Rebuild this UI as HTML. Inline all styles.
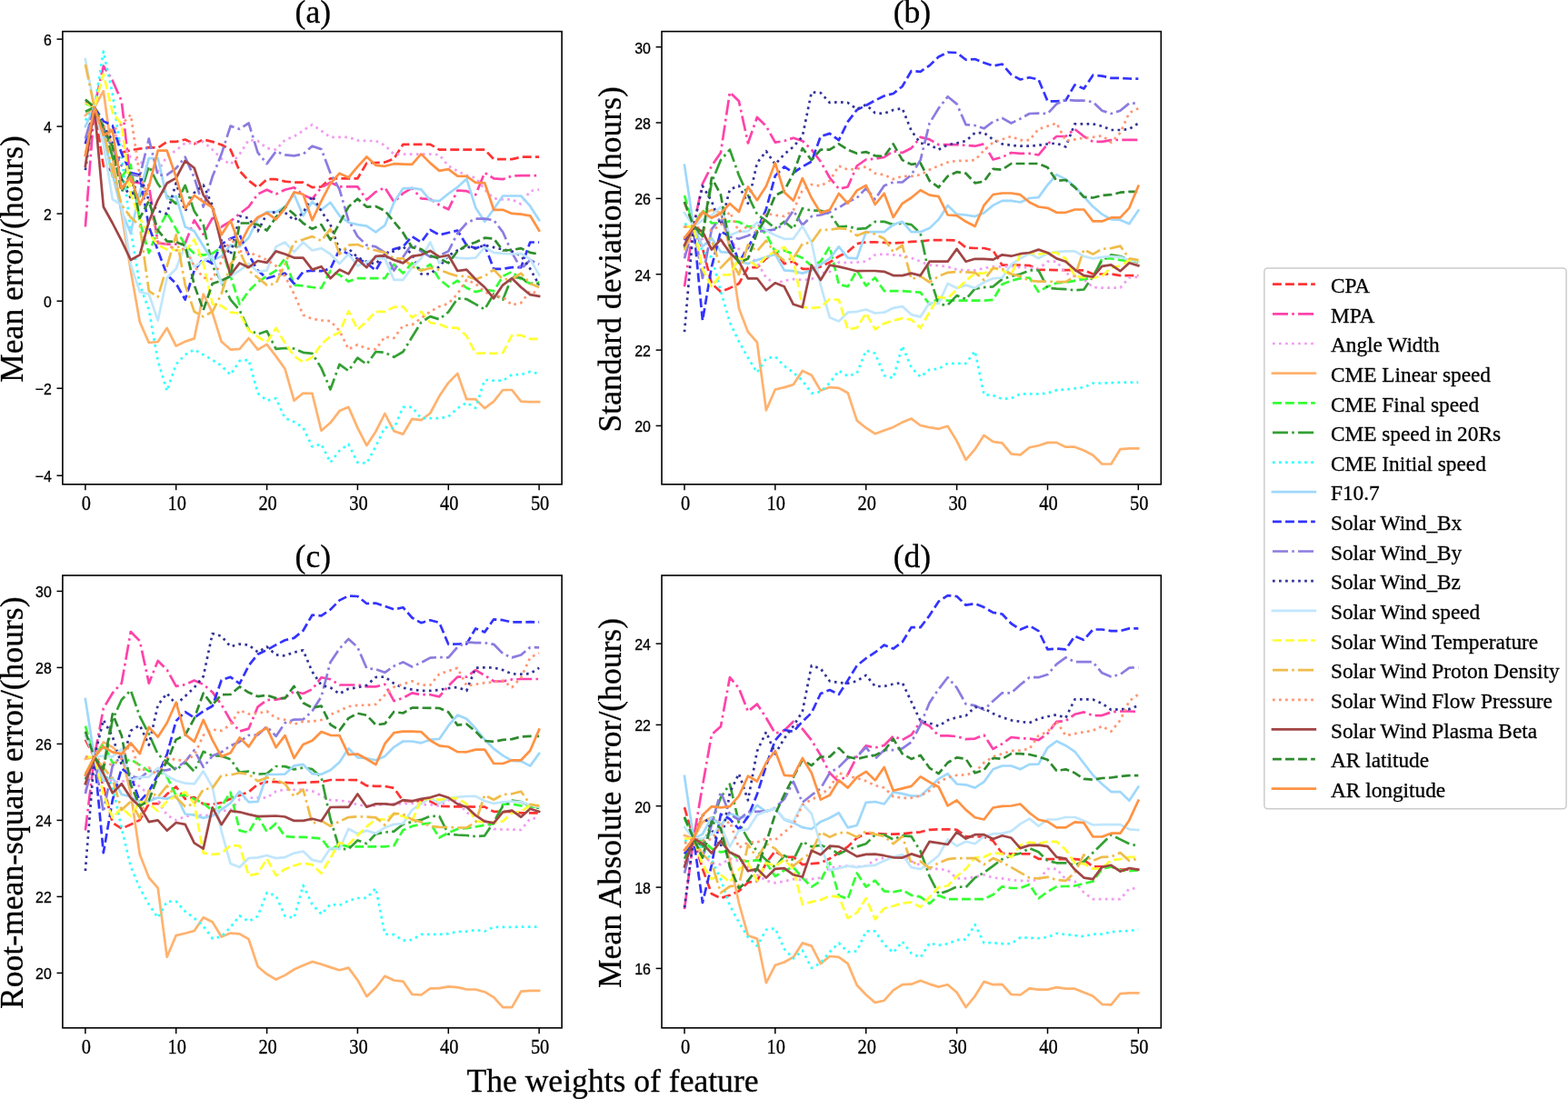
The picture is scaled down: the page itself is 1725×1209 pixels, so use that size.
<!DOCTYPE html>
<html lang="en"><head><meta charset="utf-8">
<title>Prediction error versus the weights of feature</title>
<style>
html,body{margin:0;padding:0;background:#fff;}
body{width:1725px;height:1209px;overflow:hidden;}
svg{display:block;}
.ser{font-family:"Liberation Serif", "DejaVu Serif", serif;fill:#000;stroke:#000;stroke-width:0.3px;stroke-linejoin:round;}
.san{font-family:"Liberation Sans", "DejaVu Sans", sans-serif;fill:#000;font-size:17.3px;stroke:#000;stroke-width:0.3px;}
.big{font-size:35.6px;}
.xt{font-size:22.5px;text-anchor:middle;}
.yt{text-anchor:end;}
.lg{font-size:23.3px;}
.ax{fill:none;stroke:#000;stroke-width:1.6;}
.tk{stroke:#000;stroke-width:1.5;}
.ln{fill:none;stroke-width:2.7;stroke-linejoin:round;stroke-linecap:butt;}
.sol{stroke-linecap:square;}
.dash{stroke-dasharray:9.85 4.2;}
.dashdot{stroke-dasharray:17 4.2 2.66 4.2;}
.dot{stroke-dasharray:2.7 4.33;}
</style></head><body>
<svg role="img" aria-label="Four-panel line chart of prediction errors versus the weights of feature" width="1725" height="1209" viewBox="0 0 1725 1209">
<rect x="0" y="0" width="1725" height="1209" fill="#fff"/>
<g id="panel-a">
<clipPath id="clip-a"><rect x="68.9" y="34.6" width="549.2" height="498.2"/></clipPath>
<g clip-path="url(#clip-a)">
<polyline class="ln dash" stroke="#ff3333" points="93.9,172.2 103.8,118 113.8,182.8 123.8,188.6 133.8,167.9 143.8,165.3 153.8,163.6 163.8,162.2 173.7,162.6 183.7,155.9 193.7,155.9 203.7,153.5 213.7,158.3 223.7,153.5 233.7,155.9 243.6,159.3 253.6,164.6 263.6,188.1 273.6,198.7 283.6,206.3 293.6,197.2 303.6,197.2 313.5,199.6 323.5,200.6 333.5,200.6 343.5,206.1 353.5,205.4 363.5,196.3 373.5,196.3 383.4,196.3 393.4,196.3 403.4,179.4 413.4,179 423.4,178.5 433.4,174.6 443.4,158.8 453.3,158.8 463.3,158.8 473.3,158.8 483.3,164.6 493.3,164.6 503.3,164.6 513.3,164.6 523.2,164.6 533.2,164.6 543.2,175.1 553.2,175.1 563.2,175.1 573.2,172.7 583.2,172.7 593.1,172.7"/>
<polyline class="ln dashdot" stroke="#ff43a9" points="93.9,249.5 103.8,118 113.8,72.5 123.8,88.7 133.8,111.3 143.8,199.6 153.8,201.5 163.8,203.9 173.7,267.3 183.7,268.7 193.7,268.7 203.7,267.8 213.7,242.3 223.7,257.7 233.7,239.9 243.6,249.5 253.6,243.3 263.6,235.1 273.6,227.5 283.6,213.5 293.6,208.7 303.6,213.5 313.5,208.7 323.5,206.3 333.5,214.5 343.5,218.8 353.5,206.3 363.5,200.6 373.5,205.4 383.4,205.4 393.4,205.4 403.4,219.8 413.4,211.1 423.4,206.3 433.4,222.2 443.4,212.6 453.3,206.8 463.3,218.3 473.3,219.1 483.3,225.5 493.3,230.3 503.3,209.5 513.3,210.2 523.2,214.3 533.2,190 543.2,196.3 553.2,197.2 563.2,193.6 573.2,193.1 583.2,193.1 593.1,193.1"/>
<polyline class="ln dot" stroke="#f19bf1" points="93.9,158.3 103.8,118 113.8,158.3 123.8,143.9 133.8,158.3 143.8,172.7 153.8,177.5 163.8,184.7 173.7,188.6 183.7,171.8 193.7,165.5 203.7,157.4 213.7,157.4 223.7,155.9 233.7,164.6 243.6,174.6 253.6,180.9 263.6,169.6 273.6,154 283.6,155 293.6,163.1 303.6,164.6 313.5,154 323.5,150.2 333.5,143.6 343.5,137.2 353.5,143.9 363.5,150.9 373.5,150.9 383.4,150.9 393.4,154.5 403.4,155 413.4,155 423.4,159.8 433.4,169.6 443.4,169.6 453.3,169.6 463.3,169.6 473.3,169.6 483.3,170.3 493.3,182.6 503.3,188.1 513.3,193.1 523.2,195.5 533.2,208.5 543.2,218.3 553.2,219.3 563.2,219.3 573.2,224.6 583.2,210.2 593.1,208.5"/>
<polyline class="ln sol" stroke="#ffb26e" points="93.9,126.9 103.8,118 113.8,100.2 123.8,172.7 133.8,235.1 143.8,297.6 153.8,354.2 163.8,377 173.7,376 183.7,360.8 193.7,380.6 203.7,375.8 213.7,372.4 223.7,323.5 233.7,344.1 243.6,375.8 253.6,384.6 263.6,383.8 273.6,372 283.6,384.6 293.6,378.9 303.6,391.9 313.5,405.7 323.5,440.6 333.5,432.5 343.5,432.9 353.5,473.7 363.5,465.1 373.5,452.1 383.4,447.8 393.4,470.6 403.4,490.1 413.4,474.7 423.4,455 433.4,474.2 443.4,477.6 453.3,460.8 463.3,462.2 473.3,454.5 483.3,435.8 493.3,421.1 503.3,410.9 513.3,439.2 523.2,439.2 533.2,449.1 543.2,441.6 553.2,429 563.2,429 573.2,441.6 583.2,442.1 593.1,442.1"/>
<polyline class="ln dash" stroke="#33ff33" points="93.9,113.7 103.8,118 113.8,146.3 123.8,194.3 133.8,194.8 143.8,181.1 153.8,243.8 163.8,278.3 173.7,253.4 183.7,234.2 193.7,251.9 203.7,269.7 213.7,278.8 223.7,280.7 233.7,278.8 243.6,272.1 253.6,303.8 263.6,334.7 273.6,320.1 283.6,310.4 293.6,303.8 303.6,297.6 313.5,284.4 323.5,313.6 333.5,314.4 343.5,316 353.5,316.8 363.5,298 373.5,302.4 383.4,309.6 393.4,306.2 403.4,306.2 413.4,306.2 423.4,306.2 433.4,290.8 443.4,300.6 453.3,289.4 463.3,297.6 473.3,290.8 483.3,307.2 493.3,315.3 503.3,308.7 513.3,316.8 523.2,321.1 533.2,318.5 543.2,320.1 553.2,303.8 563.2,299 573.2,307.2 583.2,312 593.1,310.5"/>
<polyline class="ln dashdot" stroke="#33a033" points="93.9,122.8 103.8,118 113.8,139.1 123.8,172.7 133.8,196.7 143.8,211.1 153.8,215.9 163.8,182.8 173.7,202.3 183.7,215.9 193.7,224.1 203.7,203.9 213.7,232.3 223.7,247.1 233.7,292.8 243.6,309.6 253.6,329.7 263.6,341.2 273.6,362.7 283.6,367.6 293.6,364.3 303.6,383.8 313.5,383 323.5,383.5 333.5,387.8 343.5,388.8 353.5,404.9 363.5,428.4 373.5,400.8 383.4,408 393.4,393.6 403.4,400.8 413.4,387 423.4,387.8 433.4,392.8 443.4,387 453.3,370.8 463.3,354.6 473.3,348.1 483.3,351.3 493.3,343.2 503.3,328.3 513.3,329 523.2,334.7 533.2,340.3 543.2,323.5 553.2,329.7 563.2,304.8 573.2,305.7 583.2,312 593.1,312"/>
<polyline class="ln dot" stroke="#33ffff" points="93.9,132.5 103.8,118 113.8,56.6 123.8,103.1 133.8,172.7 143.8,253.4 153.8,313.6 163.8,340.8 173.7,396.9 183.7,430.1 193.7,400.8 203.7,390.2 213.7,384.6 223.7,390.2 233.7,396 243.6,402.5 253.6,412.3 263.6,396.9 273.6,396 283.6,432.5 293.6,440.6 303.6,438.2 313.5,460.1 323.5,464.1 333.5,470.4 343.5,491.5 353.5,488.6 363.5,508.8 373.5,495.8 383.4,488.6 393.4,508.8 403.4,509.6 413.4,491 423.4,469.9 433.4,471.3 443.4,447.8 453.3,447.8 463.3,460.1 473.3,460.1 483.3,460.1 493.3,458.4 503.3,449.1 513.3,443 523.2,448.8 533.2,417.9 543.2,418.7 553.2,418.7 563.2,412.2 573.2,412.2 583.2,408.9 593.1,411.3"/>
<polyline class="ln sol" stroke="#9fd8fb" points="93.9,139.1 103.8,118 113.8,148.7 123.8,191.9 133.8,232.3 143.8,256.7 153.8,211.1 163.8,174.2 173.7,174.2 183.7,218.3 193.7,215.9 203.7,249.5 213.7,254.3 223.7,270.7 233.7,286.5 243.6,281.9 253.6,269.7 263.6,271.4 273.6,261.5 283.6,240.6 293.6,233.2 303.6,233.2 313.5,227.6 323.5,213.8 333.5,237.3 343.5,221.9 353.5,230.8 363.5,222.7 373.5,237.3 383.4,244.7 393.4,247.1 403.4,248.6 413.4,255.3 423.4,247.9 433.4,222.7 443.4,207.3 453.3,206.8 463.3,208.3 473.3,220.3 483.3,221.2 493.3,213.1 503.3,205.9 513.3,196.7 523.2,228.4 533.2,243.8 543.2,230 553.2,215.5 563.2,215.5 573.2,215.5 583.2,226.7 593.1,242.2"/>
<polyline class="ln dash" stroke="#3333ff" points="93.9,158.3 103.8,118 113.8,133.4 123.8,138.2 133.8,168.9 143.8,190 153.8,192.4 163.8,249.5 173.7,275.5 183.7,302.4 193.7,312 203.7,329.7 213.7,297.6 223.7,284.6 233.7,289.9 243.6,268.7 253.6,262.5 263.6,258.4 273.6,280.3 283.6,297.6 293.6,306.2 303.6,303.1 313.5,300.6 323.5,312 333.5,299 343.5,297.6 353.5,298.2 363.5,295.6 373.5,274.5 383.4,279.5 393.4,284.6 403.4,289.4 413.4,297.6 423.4,279.5 433.4,274 443.4,271.4 453.3,260.1 463.3,266.5 473.3,252.9 483.3,258.4 493.3,256 503.3,253.6 513.3,269.7 523.2,273.1 533.2,269.7 543.2,295.8 553.2,295.8 563.2,294.2 573.2,294.2 583.2,266.5 593.1,266.5"/>
<polyline class="ln dashdot" stroke="#8b7ce0" points="93.9,152.6 103.8,118 113.8,143.9 123.8,163.1 133.8,182.3 143.8,191.9 153.8,193.9 163.8,152.6 173.7,192.9 183.7,192.4 193.7,185.2 203.7,172.7 213.7,195.3 223.7,227.5 233.7,194.3 243.6,169.6 253.6,138.6 263.6,142 273.6,135.5 283.6,167.9 293.6,180.1 303.6,166.5 313.5,170.3 323.5,171.3 333.5,169.6 343.5,160.7 353.5,164.1 363.5,190.5 373.5,208.3 383.4,242.3 393.4,260.1 403.4,269.7 413.4,271.4 423.4,277.9 433.4,297.6 443.4,282.7 453.3,268.3 463.3,276.4 473.3,282.7 483.3,281.2 493.3,276.4 503.3,256.7 513.3,245.5 523.2,240.6 533.2,240.6 543.2,242.2 553.2,255.3 563.2,277.9 573.2,295.8 583.2,286 593.1,290.8"/>
<polyline class="ln dot" stroke="#333399" points="93.9,187.1 103.8,118 113.8,139.1 123.8,154.5 133.8,199.1 143.8,217.9 153.8,191.9 163.8,220.7 173.7,232.3 183.7,235.1 193.7,201.5 203.7,232.3 213.7,212.1 223.7,203.5 233.7,226 243.6,264.9 253.6,280.3 263.6,237.7 273.6,239.9 283.6,254.3 293.6,235.1 303.6,233.2 313.5,233.7 323.5,242.3 333.5,234.2 343.5,215.5 353.5,232.3 363.5,247.1 373.5,275.5 383.4,273.5 393.4,283.1 403.4,288 413.4,290.4 423.4,279.5 433.4,276.4 443.4,271.4 453.3,279.5 463.3,301.4 473.3,301.4 483.3,293.2 493.3,281.2 503.3,275.5 513.3,271.4 523.2,273.1 533.2,269.7 543.2,272.1 553.2,274.5 563.2,276.4 573.2,281.2 583.2,295.6 593.1,313.6"/>
<polyline class="ln sol" stroke="#c0e6fc" points="93.9,65.2 103.8,118 113.8,158.3 123.8,219.3 133.8,225.5 143.8,290.8 153.8,321.1 163.8,323.5 173.7,352.6 183.7,305.5 193.7,295.8 203.7,269.7 213.7,293.2 223.7,287.7 233.7,281.2 243.6,312 253.6,303.8 263.6,297.6 273.6,290.1 283.6,299 293.6,297.6 303.6,271.4 313.5,266.5 323.5,277.1 333.5,266.5 343.5,275.5 353.5,273.1 363.5,279.5 373.5,290.1 383.4,279.5 393.4,292.5 403.4,288.4 413.4,284.4 423.4,284.4 433.4,307.9 443.4,307.9 453.3,294.2 463.3,284.4 473.3,266.5 483.3,289.2 493.3,281.2 503.3,283.6 513.3,284.4 523.2,283.6 533.2,272.2 543.2,277.9 553.2,278.8 563.2,279.5 573.2,278.8 583.2,285.2 593.1,302.4"/>
<polyline class="ln dash" stroke="#ffff33" points="93.9,112.7 103.8,118 113.8,81.5 123.8,123.8 133.8,136.7 143.8,213.5 153.8,240.4 163.8,256.7 173.7,269.7 183.7,274.5 193.7,275 203.7,276.4 213.7,263.5 223.7,289.9 233.7,334.5 243.6,336.4 253.6,343.6 263.6,344.6 273.6,363.3 283.6,370.5 293.6,376.3 303.6,360.9 313.5,377.2 323.5,391.7 333.5,398.4 343.5,393.1 353.5,378.7 363.5,370 373.5,365.7 383.4,342.2 393.4,362.4 403.4,353.4 413.4,342.8 423.4,342.8 433.4,337.9 443.4,337.2 453.3,349.3 463.3,342.8 473.3,355 483.3,356.6 493.3,360.7 503.3,360.7 513.3,369.6 523.2,388.8 533.2,388.3 543.2,388.8 553.2,388.1 563.2,368.8 573.2,368.8 583.2,372.8 593.1,372.8"/>
<polyline class="ln dashdot" stroke="#f0bc4a" points="93.9,70.9 103.8,118 113.8,143.9 123.8,187.1 133.8,225.5 143.8,239 153.8,248.6 163.8,320.1 173.7,326.6 183.7,292.8 193.7,258.4 203.7,313.6 213.7,342.8 223.7,348.4 233.7,342.8 243.6,323.3 253.6,290.8 263.6,276.4 273.6,297.6 283.6,305.5 293.6,313.6 303.6,312 313.5,290.8 323.5,266.5 333.5,263.5 343.5,260.1 353.5,264.9 363.5,251.9 373.5,279.5 383.4,269.7 393.4,269 403.4,273.1 413.4,275.5 423.4,277.9 433.4,284.4 443.4,284.4 453.3,293.2 463.3,297.6 473.3,295 483.3,296.6 493.3,300.6 503.3,303.8 513.3,303.8 523.2,307.2 533.2,303.8 543.2,296.6 553.2,307.2 563.2,307.2 573.2,300.6 583.2,312 593.1,316"/>
<polyline class="ln dot" stroke="#ff9673" points="93.9,111.3 103.8,118 113.8,139.1 123.8,143.9 133.8,136.7 143.8,126.2 153.8,194.1 163.8,217.9 173.7,266.5 183.7,268.3 193.7,275.5 203.7,273.5 213.7,292.8 223.7,305.5 233.7,307.2 243.6,287.7 253.6,261.7 263.6,276.4 273.6,277.9 283.6,281.2 293.6,286 303.6,292.5 313.5,303.8 323.5,323.3 333.5,346.5 343.5,350.8 353.5,352.3 363.5,353.2 373.5,363.8 383.4,384.2 393.4,379.2 403.4,383.5 413.4,384.2 423.4,370.5 433.4,372 443.4,358.2 453.3,357.4 463.3,350.1 473.3,342.8 483.3,337.2 493.3,333.9 503.3,323.3 513.3,307.9 523.2,312 533.2,320.9 543.2,325.8 553.2,326.6 563.2,335.5 573.2,333.1 583.2,320.1 593.1,323.3"/>
<polyline class="ln sol" stroke="#a04545" points="93.9,182.8 103.8,118 113.8,227.5 123.8,245.5 133.8,264.9 143.8,286 153.8,280.3 163.8,243.8 173.7,219.8 183.7,201.5 193.7,195.8 203.7,177 213.7,184.7 223.7,214.5 233.7,228.4 243.6,268.3 253.6,302.4 263.6,289.4 273.6,294.2 283.6,287 293.6,288.9 303.6,276.4 313.5,279.5 323.5,283.6 333.5,283.6 343.5,296.6 353.5,293.2 363.5,306.2 373.5,296.6 383.4,301.4 393.4,285.2 403.4,294.2 413.4,281.9 423.4,281.2 433.4,286 443.4,289.4 453.3,281.9 463.3,280.3 473.3,275.9 483.3,282.7 493.3,280.7 503.3,298 513.3,296.6 523.2,307.2 533.2,316 543.2,328.3 553.2,313.6 563.2,306.2 573.2,316 583.2,324.2 593.1,325.9"/>
<polyline class="ln dash" stroke="#2e8b2e" points="93.9,109.4 103.8,118 113.8,142 123.8,160.7 133.8,211.1 143.8,190 153.8,239.9 163.8,221.2 173.7,253.4 183.7,265.4 193.7,266.3 203.7,270.2 213.7,313.6 223.7,341.2 233.7,312 243.6,308.7 253.6,303.8 263.6,245.5 273.6,245.5 283.6,247.1 293.6,253.6 303.6,239 313.5,227.6 323.5,235.6 333.5,245.5 343.5,251.9 353.5,247.1 363.5,263.9 373.5,245.5 383.4,227.6 393.4,218.7 403.4,227.6 413.4,227 423.4,231.8 433.4,243.8 443.4,256 453.3,272.1 463.3,274 473.3,281.2 483.3,284.4 493.3,289.4 503.3,276.4 513.3,269.7 523.2,266.5 533.2,261.7 543.2,262.5 553.2,275.5 563.2,275 573.2,273.1 583.2,277.9 593.1,279.5"/>
<polyline class="ln sol" stroke="#ff9243" points="93.9,170.6 103.8,118 113.8,148.7 123.8,143.4 133.8,207.9 143.8,194.1 153.8,225.1 163.8,205.4 173.7,165.7 183.7,165.7 193.7,194.8 203.7,229.4 213.7,215 223.7,222.2 233.7,228.4 243.6,258.4 253.6,242.6 263.6,269.5 273.6,250.3 283.6,239 293.6,234.2 303.6,241.4 313.5,229.4 323.5,211.4 333.5,213.8 343.5,242.2 353.5,221.2 363.5,202 373.5,190.7 383.4,195.3 393.4,183.3 403.4,172.5 413.4,181.8 423.4,182.8 433.4,180.2 443.4,180.6 453.3,180.9 463.3,169.4 473.3,179.4 483.3,187.9 493.3,186.2 503.3,193.6 513.3,193.9 523.2,200.8 533.2,201.3 543.2,230.8 553.2,230.8 563.2,234.9 573.2,235.6 583.2,237.3 593.1,253.6"/>
</g>
<rect class="ax" x="68.9" y="34.6" width="549.2" height="498.2"/>
<line class="tk" x1="93.9" y1="532.8" x2="93.9" y2="539.2"/>
<text class="ser xt" x="94.9" y="561.2" textLength="10.2" lengthAdjust="spacingAndGlyphs">0</text>
<line class="tk" x1="193.7" y1="532.8" x2="193.7" y2="539.2"/>
<text class="ser xt" x="194.7" y="561.2" textLength="20.4" lengthAdjust="spacingAndGlyphs">10</text>
<line class="tk" x1="293.6" y1="532.8" x2="293.6" y2="539.2"/>
<text class="ser xt" x="294.6" y="561.2" textLength="20.4" lengthAdjust="spacingAndGlyphs">20</text>
<line class="tk" x1="393.4" y1="532.8" x2="393.4" y2="539.2"/>
<text class="ser xt" x="394.4" y="561.2" textLength="20.4" lengthAdjust="spacingAndGlyphs">30</text>
<line class="tk" x1="493.3" y1="532.8" x2="493.3" y2="539.2"/>
<text class="ser xt" x="494.3" y="561.2" textLength="20.4" lengthAdjust="spacingAndGlyphs">40</text>
<line class="tk" x1="593.1" y1="532.8" x2="593.1" y2="539.2"/>
<text class="ser xt" x="594.1" y="561.2" textLength="20.4" lengthAdjust="spacingAndGlyphs">50</text>
<line class="tk" x1="62.5" y1="43.1" x2="68.9" y2="43.1"/>
<text class="san yt" x="56.8" y="50" textLength="8.8" lengthAdjust="spacingAndGlyphs">6</text>
<line class="tk" x1="62.5" y1="139.1" x2="68.9" y2="139.1"/>
<text class="san yt" x="56.8" y="146" textLength="8.8" lengthAdjust="spacingAndGlyphs">4</text>
<line class="tk" x1="62.5" y1="235.1" x2="68.9" y2="235.1"/>
<text class="san yt" x="56.8" y="242" textLength="8.8" lengthAdjust="spacingAndGlyphs">2</text>
<line class="tk" x1="62.5" y1="331.2" x2="68.9" y2="331.2"/>
<text class="san yt" x="56.8" y="338.1" textLength="8.8" lengthAdjust="spacingAndGlyphs">0</text>
<line class="tk" x1="62.5" y1="427.2" x2="68.9" y2="427.2"/>
<text class="san yt" x="56.8" y="434.1" textLength="18.1" lengthAdjust="spacingAndGlyphs">−2</text>
<line class="tk" x1="62.5" y1="523.2" x2="68.9" y2="523.2"/>
<text class="san yt" x="56.8" y="530.1" textLength="18.1" lengthAdjust="spacingAndGlyphs">−4</text>
<text class="ser big" text-anchor="middle" x="344.3" y="25.4">(a)</text>
<text class="ser big" text-anchor="middle" transform="translate(24.5,285) rotate(-90)">Mean error/(hours)</text>
</g>
<g id="panel-b">
<clipPath id="clip-b"><rect x="728" y="34.6" width="549.3" height="498.2"/></clipPath>
<g clip-path="url(#clip-b)">
<polyline class="ln dash" stroke="#ff3333" points="753,222.5 763,248.8 772.9,273 782.9,312 792.9,320.9 802.9,316.9 812.9,312 822.9,294.2 832.9,294.2 842.9,284.4 852.8,276.3 862.8,290.1 872.8,287.7 882.8,295.8 892.8,295.8 902.8,293.4 912.8,288.5 922.8,282 932.7,277.1 942.7,268.2 952.7,266.3 962.7,266.3 972.7,266.9 982.7,267.4 992.7,266.9 1002.6,265.8 1012.6,265.5 1022.6,264.2 1032.6,264.2 1042.6,264.2 1052.6,264.4 1062.6,272.3 1072.6,273 1082.5,273 1092.5,275.5 1102.5,291.7 1112.5,291.7 1122.5,291.7 1132.5,292.1 1142.5,296.6 1152.5,296.9 1162.4,297.1 1172.4,297.1 1182.4,297.3 1192.4,297.4 1202.4,301.5 1212.4,301.5 1222.4,301.5 1232.4,303.1 1242.3,303.1 1252.3,303.1"/>
<polyline class="ln dashdot" stroke="#ff43a9" points="753,315.3 763,248.8 772.9,202.1 782.9,182.5 792.9,168 802.9,101.4 812.9,111.3 822.9,157.5 832.9,129 842.9,138.8 852.8,156.7 862.8,155 872.8,151.7 882.8,155 892.8,164.6 902.8,177.7 912.8,195.5 922.8,207.8 932.7,205.5 942.7,182.5 952.7,175.5 962.7,174.6 972.7,173 982.7,166.3 992.7,168 1002.6,163 1012.6,150.9 1022.6,153.4 1032.6,159.2 1042.6,159.2 1052.6,159.2 1062.6,159.8 1072.6,160.7 1082.5,158.4 1092.5,175.5 1102.5,173 1112.5,168 1122.5,168.8 1132.5,168.8 1142.5,170.5 1152.5,158.4 1162.4,150 1172.4,150 1182.4,142.1 1192.4,150 1202.4,155.9 1212.4,155.9 1222.4,154.2 1232.4,153.8 1242.3,153.8 1252.3,153.8"/>
<polyline class="ln dot" stroke="#f19bf1" points="753,280.9 763,248.8 772.9,264.2 782.9,272.6 792.9,270.5 802.9,265.1 812.9,273.9 822.9,281.2 832.9,288.5 842.9,305.5 852.8,312 862.8,308.8 872.8,307.1 882.8,308 892.8,307.1 902.8,300.6 912.8,299 922.8,288.5 932.7,289 942.7,288.5 952.7,287.7 962.7,280.3 972.7,279.6 982.7,280.3 992.7,281.2 1002.6,283.6 1012.6,287.7 1022.6,291.7 1032.6,292.2 1042.6,293.4 1052.6,296.6 1062.6,297.4 1072.6,297.4 1082.5,295 1092.5,293.4 1102.5,293.4 1112.5,293 1122.5,294.2 1132.5,294.2 1142.5,295.8 1152.5,287.7 1162.4,287.7 1172.4,300.6 1182.4,303.9 1192.4,307.1 1202.4,316.1 1212.4,316.6 1222.4,316.6 1232.4,316.6 1242.3,305.5 1252.3,304.7"/>
<polyline class="ln sol" stroke="#ffb26e" points="753,249.6 763,248.8 772.9,235 782.9,230.9 792.9,234.2 802.9,272.6 812.9,339.2 822.9,365.2 832.9,376.5 842.9,451.3 852.8,428.5 862.8,426.1 872.8,423.1 882.8,407.9 892.8,412.7 902.8,429.6 912.8,426.1 922.8,426.9 932.7,432.2 942.7,462.6 952.7,470.7 962.7,477.2 972.7,473.4 982.7,469.9 992.7,464.6 1002.6,460.6 1012.6,468 1022.6,470.2 1032.6,471.8 1042.6,468.8 1052.6,485.1 1062.6,505.9 1072.6,494.2 1082.5,478.8 1092.5,485.8 1102.5,487.4 1112.5,499.4 1122.5,500.4 1132.5,492.3 1142.5,490.2 1152.5,486.9 1162.4,486.9 1172.4,491.7 1182.4,491.7 1192.4,495.5 1202.4,500.7 1212.4,510.5 1222.4,510.5 1232.4,494.2 1242.3,493.4 1252.3,493.4"/>
<polyline class="ln dash" stroke="#33ff33" points="753,215 763,248.8 772.9,230.9 782.9,245.5 792.9,245.5 802.9,243.4 812.9,244.2 822.9,249.2 832.9,249.2 842.9,257.5 852.8,277.1 862.8,275.5 872.8,279.6 882.8,283.8 892.8,292.6 902.8,287.7 912.8,271.4 922.8,312.8 932.7,315.3 942.7,297.4 952.7,314.4 962.7,305.5 972.7,320.1 982.7,320.1 992.7,320.1 1002.6,320.9 1012.6,321.7 1022.6,334.6 1032.6,328.3 1042.6,330.7 1052.6,330.7 1062.6,330.7 1072.6,330.7 1082.5,330.7 1092.5,329.9 1102.5,312.8 1112.5,308.8 1122.5,306.3 1132.5,305.5 1142.5,320.9 1152.5,315.3 1162.4,311.3 1172.4,310.5 1182.4,308.8 1192.4,307.1 1202.4,305.5 1212.4,284.4 1222.4,284.4 1232.4,286.1 1242.3,286.8 1252.3,287.7"/>
<polyline class="ln dashdot" stroke="#33a033" points="753,273 763,248.8 772.9,260.1 782.9,200.5 792.9,176.1 802.9,164.6 812.9,193 822.9,215 832.9,235.7 842.9,243 852.8,251.3 862.8,243.8 872.8,251.9 882.8,229.2 892.8,231.7 902.8,231.7 912.8,235 922.8,249.5 932.7,248.8 942.7,251.9 952.7,251.1 962.7,243.8 972.7,243.8 982.7,247.1 992.7,245.5 1002.6,247.1 1012.6,256.7 1022.6,303.9 1032.6,334.8 1042.6,335.6 1052.6,325.1 1062.6,329.1 1072.6,317.7 1082.5,316.1 1092.5,315.3 1102.5,307.1 1112.5,303.9 1122.5,301.5 1132.5,297.4 1142.5,297.4 1152.5,316.9 1162.4,317.7 1172.4,318.2 1182.4,319.3 1192.4,318.5 1202.4,303.9 1212.4,286.1 1222.4,280.3 1232.4,282 1242.3,286.1 1252.3,288.5"/>
<polyline class="ln dot" stroke="#33ffff" points="753,246.3 763,248.8 772.9,276.7 782.9,283 792.9,320.1 802.9,354.6 812.9,375.7 822.9,393.6 832.9,409.8 842.9,394.4 852.8,392.3 862.8,402.6 872.8,409.8 882.8,418.8 892.8,432.6 902.8,430.9 912.8,421.2 922.8,407.9 932.7,413.8 942.7,410.6 952.7,385.5 962.7,388.7 972.7,413.1 982.7,416 992.7,380.6 1002.6,404.2 1012.6,414.6 1022.6,406.6 1032.6,405.8 1042.6,399.8 1052.6,399.8 1062.6,399.8 1072.6,386.3 1082.5,434.2 1092.5,435.1 1102.5,438.8 1112.5,438.2 1122.5,433.4 1132.5,433.4 1142.5,433.4 1152.5,432.6 1162.4,429.2 1172.4,428.5 1182.4,427.4 1192.4,426.1 1202.4,421.5 1212.4,421.5 1222.4,421.2 1232.4,420.7 1242.3,420.7 1252.3,420.7"/>
<polyline class="ln sol" stroke="#9fd8fb" points="753,181.7 763,248.8 772.9,271.3 782.9,262.1 792.9,277.1 802.9,278 812.9,287.1 822.9,290.1 832.9,286.1 842.9,282.8 852.8,279.6 862.8,297.4 872.8,298.2 882.8,300.6 892.8,297.4 902.8,290.9 912.8,284.4 922.8,271.4 932.7,283.6 942.7,284.4 952.7,255.2 962.7,255.2 972.7,255.2 982.7,247.1 992.7,243.8 1002.6,255.2 1012.6,255.2 1022.6,251.1 1032.6,241.4 1042.6,225.9 1052.6,235.7 1062.6,236.5 1072.6,238.1 1082.5,234.2 1092.5,225.9 1102.5,220.9 1112.5,220.9 1122.5,222.5 1132.5,218 1142.5,217.1 1152.5,203.4 1162.4,192.1 1172.4,197.1 1182.4,205 1192.4,216.3 1202.4,227.3 1212.4,235.7 1222.4,241.4 1232.4,241.9 1242.3,246.3 1252.3,231.7"/>
<polyline class="ln dash" stroke="#3333ff" points="753,264.2 763,248.8 772.9,352.6 782.9,293.4 792.9,254.6 802.9,260.1 812.9,288.4 822.9,272.6 832.9,253.2 842.9,230 852.8,193.4 862.8,183.4 872.8,190 882.8,183.4 892.8,177.7 902.8,150 912.8,146.9 922.8,154.2 932.7,133.8 942.7,120.9 952.7,116 962.7,110.5 972.7,105.5 982.7,103 992.7,95 1002.6,78 1012.6,78.8 1022.6,72.1 1032.6,62.5 1042.6,57.5 1052.6,58 1062.6,65.7 1072.6,65 1082.5,69 1092.5,72.5 1102.5,70.5 1112.5,82.1 1122.5,87.5 1132.5,85.2 1142.5,87.5 1152.5,111.3 1162.4,111.3 1172.4,110.5 1182.4,93.4 1192.4,97.5 1202.4,82.7 1212.4,83.6 1222.4,85.9 1232.4,85.9 1242.3,86.5 1252.3,86.7"/>
<polyline class="ln dashdot" stroke="#8b7ce0" points="753,284.4 763,248.8 772.9,305.9 782.9,252.1 792.9,239.2 802.9,260.5 812.9,262.8 822.9,259.2 832.9,254.8 842.9,253.8 852.8,252.3 862.8,246.7 872.8,231.7 882.8,247.5 892.8,238.1 902.8,236.5 912.8,233.4 922.8,228.4 932.7,222.1 942.7,217.8 952.7,207.1 962.7,219.3 972.7,204.3 982.7,200.5 992.7,200.5 1002.6,192.3 1012.6,176.1 1022.6,135.5 1032.6,119.2 1042.6,106.3 1052.6,114.4 1062.6,137.1 1072.6,138 1082.5,141.3 1092.5,133.8 1102.5,129.8 1112.5,135.5 1122.5,130.6 1132.5,125 1142.5,124.6 1152.5,125 1162.4,114.4 1172.4,109.6 1182.4,110.7 1192.4,110.7 1202.4,112.1 1212.4,121.7 1222.4,125 1232.4,121.7 1242.3,113.6 1252.3,113.6"/>
<polyline class="ln dot" stroke="#333399" points="753,365.2 763,248.8 772.9,204.6 782.9,221.3 792.9,247.5 802.9,208.4 812.9,204.4 822.9,223.8 832.9,179.2 842.9,166.3 852.8,180.9 862.8,169.6 872.8,161.5 882.8,150 892.8,101.4 902.8,102.1 912.8,113 922.8,112.1 932.7,113 942.7,120 952.7,115.2 962.7,124.2 972.7,125 982.7,120.9 992.7,119.2 1002.6,143.8 1012.6,157.5 1022.6,159.2 1032.6,164.6 1042.6,159.2 1052.6,157.5 1062.6,155 1072.6,146.1 1082.5,146.1 1092.5,153.4 1102.5,158.4 1112.5,159.8 1122.5,160.7 1132.5,160.7 1142.5,159.8 1152.5,158.4 1162.4,157.5 1172.4,161.5 1182.4,136.3 1192.4,136.3 1202.4,136.3 1212.4,138.8 1222.4,143 1232.4,143 1242.3,142.1 1252.3,135.5"/>
<polyline class="ln sol" stroke="#c0e6fc" points="753,234.2 763,248.8 772.9,242.1 782.9,236.7 792.9,227.5 802.9,258.8 812.9,254.8 822.9,254.4 832.9,244.6 842.9,253.6 852.8,258.8 862.8,262.8 872.8,262.6 882.8,248.8 892.8,266.6 902.8,313.6 912.8,349.3 922.8,353.4 932.7,343.7 942.7,342.8 952.7,340.5 962.7,344.5 972.7,343.7 982.7,338.8 992.7,337.1 1002.6,346.1 1012.6,348.6 1022.6,333.1 1032.6,333.9 1042.6,312 1052.6,316.9 1062.6,313.6 1072.6,316.9 1082.5,310.5 1092.5,306.3 1102.5,305.5 1112.5,290.9 1122.5,284.4 1132.5,278.8 1142.5,284.1 1152.5,278.8 1162.4,277.1 1172.4,276.3 1182.4,276.3 1192.4,282 1202.4,284.4 1212.4,282.8 1222.4,282 1232.4,282.8 1242.3,286.1 1252.3,287.7"/>
<polyline class="ln dash" stroke="#ffff33" points="753,249.6 763,248.8 772.9,295.9 782.9,315.3 792.9,302.3 802.9,302.3 812.9,284.4 822.9,285.9 832.9,293 842.9,282.1 852.8,276.3 862.8,271.8 872.8,285.3 882.8,338 892.8,338.8 902.8,338 912.8,329.1 922.8,329.9 932.7,362.3 942.7,360.7 952.7,344.5 962.7,362.3 972.7,355.9 982.7,352.6 992.7,350.1 1002.6,351.7 1012.6,360.7 1022.6,343.4 1032.6,326.7 1042.6,328.3 1052.6,318.5 1062.6,308.8 1072.6,300.6 1082.5,300.6 1092.5,295 1102.5,297.4 1112.5,302.3 1122.5,279.6 1132.5,278 1142.5,279.6 1152.5,278 1162.4,278 1172.4,284.4 1182.4,303.9 1192.4,305.1 1202.4,305.5 1212.4,303.9 1222.4,294.2 1232.4,292.6 1242.3,286.1 1252.3,286.1"/>
<polyline class="ln dashdot" stroke="#f0bc4a" points="753,275.5 763,248.8 772.9,256.7 782.9,264.2 792.9,294.6 802.9,284.2 812.9,302.1 822.9,269.2 832.9,276.3 842.9,264.6 852.8,278.8 862.8,286.7 872.8,283.8 882.8,268.2 892.8,266.6 902.8,252.8 912.8,252.8 922.8,251.1 932.7,251.9 942.7,259.2 952.7,255.2 962.7,257.6 972.7,262.6 982.7,277.1 992.7,269.8 1002.6,307.1 1012.6,303.9 1022.6,310.5 1032.6,303.9 1042.6,299.8 1052.6,299 1062.6,299.3 1072.6,299.8 1082.5,308 1092.5,295 1102.5,295.8 1112.5,301.5 1122.5,303.9 1132.5,308.8 1142.5,309.6 1152.5,309.6 1162.4,310.1 1172.4,310.1 1182.4,303.9 1192.4,274.6 1202.4,279.6 1212.4,273.9 1222.4,273.1 1232.4,270.6 1242.3,284.4 1252.3,286.1"/>
<polyline class="ln dot" stroke="#ff9673" points="753,249.6 763,248.8 772.9,251.7 782.9,253.8 792.9,247.5 802.9,233 812.9,255 822.9,248.8 832.9,254.6 842.9,234.6 852.8,236.9 862.8,237.8 872.8,231.3 882.8,209.2 892.8,203 902.8,204.6 912.8,198.8 922.8,182.5 932.7,186.7 942.7,185.9 952.7,183.4 962.7,190.7 972.7,192.3 982.7,197.1 992.7,193.9 1002.6,193.9 1012.6,192.3 1022.6,186.7 1032.6,182.5 1042.6,178.5 1052.6,176.9 1062.6,176.9 1072.6,176.1 1082.5,165.5 1092.5,156.7 1102.5,153.4 1112.5,150 1122.5,154.2 1132.5,154.2 1142.5,142.1 1152.5,138.8 1162.4,135.5 1172.4,155 1182.4,153.4 1192.4,151.7 1202.4,150.9 1212.4,149.2 1222.4,156.7 1232.4,146.1 1242.3,124.2 1252.3,119.2"/>
<polyline class="ln sol" stroke="#a04545" points="753,269.8 763,248.8 772.9,254.8 782.9,274.6 792.9,263.4 802.9,278 812.9,287.7 822.9,306.3 832.9,306.3 842.9,319.3 852.8,311.3 862.8,315.3 872.8,334.8 882.8,338 892.8,291.7 902.8,308 912.8,291.7 922.8,293.4 932.7,295.8 942.7,298.2 952.7,298 962.7,298 972.7,298.8 982.7,303.1 992.7,303.1 1002.6,300.6 1012.6,303.1 1022.6,287.7 1032.6,287.7 1042.6,287.7 1052.6,273.9 1062.6,287.7 1072.6,284.8 1082.5,284.8 1092.5,285.6 1102.5,280.3 1112.5,281.7 1122.5,279.2 1132.5,278 1142.5,274.6 1152.5,278 1162.4,284.4 1172.4,287.7 1182.4,296.6 1192.4,303.1 1202.4,304.7 1212.4,292.8 1222.4,291.3 1232.4,298.2 1242.3,289.2 1252.3,292.2"/>
<polyline class="ln dash" stroke="#2e8b2e" points="753,221.9 763,248.8 772.9,258.4 782.9,195.5 792.9,214.2 802.9,270.1 812.9,289.2 822.9,284.6 832.9,255.9 842.9,239.2 852.8,215 862.8,210 872.8,190.7 882.8,163.1 892.8,176.1 902.8,164.6 912.8,164.6 922.8,158.4 932.7,164.6 942.7,168.8 952.7,167.1 962.7,171.3 972.7,172.1 982.7,158.4 992.7,176.1 1002.6,180.9 1012.6,179.3 1022.6,198.8 1032.6,206.1 1042.6,193.9 1052.6,189.2 1062.6,190.7 1072.6,201.3 1082.5,199.6 1092.5,185.9 1102.5,186.7 1112.5,180 1122.5,180 1132.5,180 1142.5,180 1152.5,184.2 1162.4,198.8 1172.4,198 1182.4,206.1 1192.4,216.7 1202.4,217.5 1212.4,215 1222.4,214.2 1232.4,211.7 1242.3,210.9 1252.3,210.9"/>
<polyline class="ln sol" stroke="#ff9243" points="753,261.7 763,248.8 772.9,233 782.9,239.8 792.9,234.6 802.9,224 812.9,233 822.9,205.5 832.9,220.2 842.9,204.8 852.8,179.2 862.8,211.5 872.8,220.7 882.8,196.1 892.8,217.8 902.8,234.1 912.8,230.9 922.8,212.8 932.7,223.8 942.7,209.6 952.7,203.9 962.7,225 972.7,212.8 982.7,239 992.7,223.8 1002.6,217.5 1012.6,209.2 1022.6,214.6 1032.6,216.1 1042.6,236.5 1052.6,237.1 1062.6,243.8 1072.6,249 1082.5,225.9 1092.5,214 1102.5,212.5 1112.5,212.5 1122.5,214.2 1132.5,222.5 1142.5,227.5 1152.5,228.8 1162.4,233.8 1172.4,233.8 1182.4,230.5 1192.4,230.5 1202.4,243.4 1212.4,243.4 1222.4,239.4 1232.4,239.4 1242.3,228.8 1252.3,204.8"/>
</g>
<rect class="ax" x="728" y="34.6" width="549.3" height="498.2"/>
<line class="tk" x1="753" y1="532.8" x2="753" y2="539.2"/>
<text class="ser xt" x="754" y="561.2" textLength="10.2" lengthAdjust="spacingAndGlyphs">0</text>
<line class="tk" x1="852.8" y1="532.8" x2="852.8" y2="539.2"/>
<text class="ser xt" x="853.8" y="561.2" textLength="20.4" lengthAdjust="spacingAndGlyphs">10</text>
<line class="tk" x1="952.7" y1="532.8" x2="952.7" y2="539.2"/>
<text class="ser xt" x="953.7" y="561.2" textLength="20.4" lengthAdjust="spacingAndGlyphs">20</text>
<line class="tk" x1="1052.6" y1="532.8" x2="1052.6" y2="539.2"/>
<text class="ser xt" x="1053.6" y="561.2" textLength="20.4" lengthAdjust="spacingAndGlyphs">30</text>
<line class="tk" x1="1152.5" y1="532.8" x2="1152.5" y2="539.2"/>
<text class="ser xt" x="1153.5" y="561.2" textLength="20.4" lengthAdjust="spacingAndGlyphs">40</text>
<line class="tk" x1="1252.3" y1="532.8" x2="1252.3" y2="539.2"/>
<text class="ser xt" x="1253.3" y="561.2" textLength="20.4" lengthAdjust="spacingAndGlyphs">50</text>
<line class="tk" x1="721.6" y1="51.7" x2="728" y2="51.7"/>
<text class="san yt" x="715.9" y="58.6" textLength="17.7" lengthAdjust="spacingAndGlyphs">30</text>
<line class="tk" x1="721.6" y1="135" x2="728" y2="135"/>
<text class="san yt" x="715.9" y="141.9" textLength="17.7" lengthAdjust="spacingAndGlyphs">28</text>
<line class="tk" x1="721.6" y1="218.4" x2="728" y2="218.4"/>
<text class="san yt" x="715.9" y="225.3" textLength="17.7" lengthAdjust="spacingAndGlyphs">26</text>
<line class="tk" x1="721.6" y1="301.7" x2="728" y2="301.7"/>
<text class="san yt" x="715.9" y="308.6" textLength="17.7" lengthAdjust="spacingAndGlyphs">24</text>
<line class="tk" x1="721.6" y1="385.1" x2="728" y2="385.1"/>
<text class="san yt" x="715.9" y="392" textLength="17.7" lengthAdjust="spacingAndGlyphs">22</text>
<line class="tk" x1="721.6" y1="468.4" x2="728" y2="468.4"/>
<text class="san yt" x="715.9" y="475.3" textLength="17.7" lengthAdjust="spacingAndGlyphs">20</text>
<text class="ser big" text-anchor="middle" x="1003.4" y="25.4">(b)</text>
<text class="ser big" text-anchor="middle" transform="translate(682.6,285.3) rotate(-90)">Standard deviation/(hours)</text>
</g>
<g id="panel-c">
<clipPath id="clip-c"><rect x="68.9" y="633" width="549.2" height="497.8"/></clipPath>
<g clip-path="url(#clip-c)">
<polyline class="ln dash" stroke="#ff3333" points="93.9,813.7 103.8,832.8 113.8,865.3 123.8,905 133.8,911.5 143.8,907.1 153.8,902.1 163.8,884.1 173.7,884.2 183.7,873.6 193.7,865.5 203.7,878.9 213.7,877.1 223.7,884.5 233.7,884.9 243.6,883 253.6,878.7 263.6,874.9 273.6,871.2 283.6,862.9 293.6,860.1 303.6,860.1 313.5,860.9 323.5,861.5 333.5,861 343.5,860.4 353.5,860.1 363.5,858 373.5,858 383.4,858 393.4,858.2 403.4,864.3 413.4,864.9 423.4,864.9 433.4,866.9 443.4,881.2 453.3,881.2 463.3,881.2 473.3,881.6 483.3,886.8 493.3,887.2 503.3,887.4 513.3,887.4 523.2,887.6 533.2,887.6 543.2,892.9 553.2,892.9 563.2,892.9 573.2,894.3 583.2,894.3 593.1,894.3"/>
<polyline class="ln dashdot" stroke="#ff43a9" points="93.9,913.5 103.8,832.8 113.8,779.2 123.8,762.5 133.8,751.5 143.8,695 153.8,705.1 163.8,751.7 173.7,727 183.7,736.9 193.7,754.9 203.7,753.2 213.7,748.6 223.7,752.8 233.7,761.4 243.6,775.1 253.6,792.7 263.6,804.5 273.6,801.6 283.6,777.6 293.6,770.1 303.6,769.6 313.5,767.6 323.5,760.7 333.5,763 343.5,758.3 353.5,745.2 363.5,747.3 373.5,753.5 383.4,753.5 393.4,753.5 403.4,755.3 413.4,755.4 423.4,752.8 433.4,771.1 443.4,767.9 453.3,762.4 463.3,764.2 473.3,764.2 483.3,766.4 493.3,754.6 503.3,744.6 513.3,744.7 523.2,737.1 533.2,743 543.2,749.4 553.2,749.5 563.2,747.5 573.2,747 583.2,747 593.1,747"/>
<polyline class="ln dot" stroke="#f19bf1" points="93.9,870.4 103.8,832.8 113.8,853.7 123.8,860.1 133.8,860 143.8,856.3 153.8,865.6 163.8,873.8 173.7,881.4 183.7,896.6 193.7,902.3 203.7,898.1 213.7,896.4 223.7,897 233.7,897.3 243.6,892.1 253.6,891.1 263.6,879.3 273.6,877.8 283.6,877.5 293.6,877.7 303.6,870.6 313.5,868.5 323.5,868.8 333.5,868.7 343.5,870.2 353.5,875.2 363.5,880.2 373.5,880.7 383.4,881.8 393.4,885.5 403.4,886.4 413.4,886.4 423.4,884.6 433.4,884.2 443.4,884.2 453.3,883.8 463.3,885.1 473.3,885.1 483.3,886.7 493.3,880 503.3,880.6 513.3,894.1 523.2,897.6 533.2,902.1 543.2,912 553.2,912.5 563.2,912.5 573.2,913 583.2,900.6 593.1,899.7"/>
<polyline class="ln sol" stroke="#ffb26e" points="93.9,834.9 103.8,832.8 113.8,816.4 123.8,822.1 133.8,831.1 143.8,872.6 153.8,940 163.8,965.5 173.7,976.9 183.7,1052.8 193.7,1029.1 203.7,1026.8 213.7,1024 223.7,1009.3 233.7,1014.2 243.6,1030.5 253.6,1026.5 263.6,1027.3 273.6,1033.2 283.6,1063.2 293.6,1071.7 303.6,1077.5 313.5,1072.9 323.5,1066.5 333.5,1062 343.5,1057.9 353.5,1060.8 363.5,1064.1 373.5,1067.2 383.4,1064.6 393.4,1078.2 403.4,1096.2 413.4,1086.8 423.4,1073.8 433.4,1078.5 443.4,1079.6 453.3,1093.8 463.3,1094.5 473.3,1087.4 483.3,1087.2 493.3,1085.3 503.3,1086.1 513.3,1088.5 523.2,1088.5 533.2,1091.2 543.2,1097.2 553.2,1108.2 563.2,1108.2 573.2,1090.7 583.2,1089.8 593.1,1089.8"/>
<polyline class="ln dash" stroke="#33ff33" points="93.9,798.7 103.8,832.8 113.8,818.9 123.8,839 133.8,839 143.8,835.5 153.8,841.7 163.8,848.5 173.7,847.3 183.7,854.5 193.7,875.3 203.7,874.6 213.7,879.1 223.7,883.4 233.7,892.1 243.6,886.9 253.6,871.6 263.6,913.6 273.6,916 283.6,897.9 293.6,914.9 303.6,905.8 313.5,920.1 323.5,920.8 333.5,920.8 343.5,921.6 353.5,922.5 363.5,935.2 373.5,928.8 383.4,931.4 393.4,931.3 403.4,931.3 413.4,931.3 423.4,931.3 433.4,930.2 443.4,913.2 453.3,908.9 463.3,906.6 473.3,905.5 483.3,921.5 493.3,916 503.3,911.9 513.3,911.1 523.2,909.5 533.2,907.8 543.2,906.1 553.2,884.7 563.2,884.6 573.2,886.4 583.2,887.3 593.1,888.1"/>
<polyline class="ln dashdot" stroke="#33a033" points="93.9,857.5 103.8,832.8 113.8,847 123.8,791.7 133.8,769.7 143.8,759.4 153.8,788.2 163.8,807.4 173.7,829.9 183.7,838.4 193.7,847.5 203.7,838.2 213.7,848.7 223.7,826.8 233.7,831.3 243.6,831.7 253.6,835.2 263.6,849.7 273.6,848.7 283.6,851.7 293.6,851 303.6,843 313.5,843.1 323.5,846.4 333.5,844.6 343.5,846.2 353.5,855.1 363.5,901 373.5,933.8 383.4,934.2 393.4,924.4 403.4,928.1 413.4,917.3 423.4,915.6 433.4,914.6 443.4,906.7 453.3,904 463.3,901.9 473.3,897.9 483.3,897.9 493.3,917.6 503.3,918.5 513.3,919 523.2,920.1 533.2,919.3 543.2,904.5 553.2,886.6 563.2,880.6 573.2,882.2 583.2,886.5 593.1,888.9"/>
<polyline class="ln dot" stroke="#33ffff" points="93.9,832.4 103.8,832.8 113.8,849.6 123.8,864.3 133.8,911.2 143.8,953.3 153.8,976.9 163.8,995 173.7,1009.5 183.7,991.7 193.7,991.6 203.7,1002.6 213.7,1010.1 223.7,1018.9 233.7,1032.4 243.6,1030.4 253.6,1020 263.6,1007.5 273.6,1013.6 283.6,1007.8 293.6,981.9 303.6,985.4 313.5,1007.6 323.5,1010 333.5,974 343.5,994.9 353.5,1005.7 363.5,994.8 373.5,995.9 383.4,990.9 393.4,988 403.4,987.9 413.4,977.1 423.4,1027.6 433.4,1028.2 443.4,1034.6 453.3,1034 463.3,1027.9 473.3,1027.9 483.3,1027.9 493.3,1027.2 503.3,1024.9 513.3,1024.7 523.2,1023 533.2,1024.5 543.2,1019.8 553.2,1019.8 563.2,1020 573.2,1019.5 583.2,1019.7 593.1,1019.5"/>
<polyline class="ln sol" stroke="#9fd8fb" points="93.9,769 103.8,832.8 113.8,859.6 123.8,855.4 133.8,874 143.8,876.4 153.8,882.3 163.8,881.4 173.7,877.5 183.7,878.6 193.7,875.2 203.7,895.5 213.7,896.6 223.7,899.9 233.7,897.3 243.6,890.6 253.6,883.5 263.6,870.6 273.6,882.3 283.6,881.9 293.6,852 303.6,852 313.5,851.6 323.5,842.4 333.5,840.9 343.5,851.2 353.5,851.8 363.5,847.2 373.5,838.4 383.4,823.3 393.4,833.4 403.4,834.2 413.4,836.2 423.4,831.9 433.4,821.8 443.4,815.5 453.3,815.5 463.3,817.3 473.3,813.7 483.3,812.9 493.3,798.4 503.3,786.6 513.3,790.8 523.2,801.3 533.2,813.6 543.2,823.7 553.2,831.1 563.2,836.8 573.2,837.3 583.2,842.6 593.1,829"/>
<polyline class="ln dash" stroke="#3333ff" points="93.9,853.7 103.8,832.8 113.8,938.1 123.8,880.1 133.8,845.4 143.8,853.2 153.8,881.8 163.8,870.6 173.7,852.3 183.7,829.9 193.7,793.1 203.7,783.1 213.7,789.5 223.7,782.4 233.7,776.8 243.6,748.2 253.6,744.8 263.6,752 273.6,732.3 283.6,719.7 293.6,715 303.6,709.4 313.5,704.3 323.5,701.9 333.5,693.7 343.5,676.5 353.5,677.4 363.5,670.6 373.5,660.4 383.4,655.5 393.4,656 403.4,664 413.4,663.5 423.4,666.9 433.4,670.4 443.4,668.2 453.3,679.5 463.3,685.2 473.3,682.3 483.3,684.9 493.3,708.7 503.3,708.5 513.3,708.4 523.2,691.4 533.2,695.4 543.2,681.3 553.2,682.2 563.2,684.4 573.2,684.4 583.2,684.2 593.1,684.4"/>
<polyline class="ln dashdot" stroke="#8b7ce0" points="93.9,873.1 103.8,832.8 113.8,893.3 123.8,842.3 133.8,831.5 143.8,853.8 153.8,856.3 163.8,848 173.7,848.2 183.7,847.1 193.7,844.9 203.7,838 213.7,825.3 223.7,843.9 233.7,831.6 243.6,827.4 253.6,820.4 263.6,815.9 273.6,808.8 283.6,808.5 293.6,799.2 303.6,809.9 313.5,795.3 323.5,791.6 333.5,791.4 343.5,782.2 353.5,766.4 363.5,728.4 373.5,713.6 383.4,702.9 393.4,712 403.4,735.3 413.4,736.2 423.4,739.8 433.4,732.8 443.4,728.4 453.3,733.5 463.3,729 473.3,723.6 483.3,723.1 493.3,723.4 503.3,711.8 513.3,706.4 523.2,707.2 533.2,707.2 543.2,708.8 553.2,719.1 563.2,723.4 573.2,720.5 583.2,712.1 593.1,712.3"/>
<polyline class="ln dot" stroke="#333399" points="93.9,958 103.8,832.8 113.8,791.9 123.8,810.4 133.8,841.5 143.8,803.9 153.8,797.7 163.8,819.6 173.7,775.6 183.7,762.8 193.7,774.9 203.7,766 213.7,756.4 223.7,744.1 233.7,697 243.6,699.8 253.6,711.3 263.6,708.5 273.6,709.5 283.6,717.4 293.6,711.5 303.6,720.4 313.5,721.3 323.5,717.6 333.5,715.4 343.5,738.9 353.5,753.8 363.5,756.4 373.5,763.2 383.4,757.7 393.4,756.3 403.4,753.9 413.4,745 423.4,744.6 433.4,751.9 443.4,756.7 453.3,758.5 463.3,759.9 473.3,759.9 483.3,758.9 493.3,757.1 503.3,756.1 513.3,759.9 523.2,734.6 533.2,734.4 543.2,734.5 553.2,737.1 563.2,741.4 573.2,741.6 583.2,741.1 593.1,734.7"/>
<polyline class="ln sol" stroke="#c0e6fc" points="93.9,809.5 103.8,832.8 113.8,831.7 123.8,832.4 133.8,823.7 143.8,858.6 153.8,855.1 163.8,854.7 173.7,844.7 183.7,853.6 193.7,858.7 203.7,861.7 213.7,862.4 223.7,848.4 233.7,866 243.6,914.3 253.6,950.1 263.6,954 273.6,944 283.6,943.4 293.6,941 303.6,944.1 313.5,943.1 323.5,938.6 333.5,936.5 343.5,945.9 353.5,948.3 363.5,933 373.5,934.2 383.4,911.8 393.4,917.1 403.4,913.7 413.4,916.8 423.4,910.4 433.4,906.8 443.4,906 453.3,891 463.3,884.2 473.3,877.7 483.3,884 493.3,878.4 503.3,876.8 513.3,876 523.2,875.9 533.2,881.2 543.2,883.9 553.2,882.3 563.2,881.5 573.2,882.3 583.2,885.8 593.1,888"/>
<polyline class="ln dash" stroke="#ffff33" points="93.9,832.8 103.8,832.8 113.8,873.3 123.8,899.6 133.8,888.7 143.8,897.7 153.8,881.9 163.8,884.4 173.7,892.2 183.7,881.5 193.7,875.6 203.7,871.2 213.7,884.1 223.7,938.3 233.7,939.8 243.6,938.9 253.6,929.9 263.6,930.7 273.6,963.1 283.6,961.2 293.6,944.7 303.6,963.1 313.5,956.2 323.5,952.2 333.5,949.4 343.5,951.3 353.5,960.9 363.5,943.8 373.5,927.1 383.4,929.1 393.4,918.9 403.4,909.4 413.4,901.3 423.4,901.3 433.4,895.6 443.4,898 453.3,902.8 463.3,880.1 473.3,878.2 483.3,879.9 493.3,878.1 503.3,878.1 513.3,884.4 523.2,903.3 533.2,904.5 543.2,904.9 553.2,903.4 563.2,894.3 573.2,892.6 583.2,886 593.1,886"/>
<polyline class="ln dashdot" stroke="#f0bc4a" points="93.9,851.2 103.8,832.8 113.8,844.4 123.8,857 133.8,891.1 143.8,881.6 153.8,900.2 163.8,869.6 173.7,876.8 183.7,864.5 193.7,877.3 203.7,887.2 213.7,884.3 223.7,868.5 233.7,866.9 243.6,853 253.6,852.5 263.6,850.3 273.6,851.8 283.6,859.3 293.6,855.4 303.6,857.8 313.5,862.3 323.5,876.1 333.5,868.5 343.5,905.9 353.5,902.9 363.5,908.8 373.5,903.6 383.4,899.1 393.4,898.2 403.4,898.7 413.4,899.3 423.4,907.6 433.4,894.8 443.4,895.6 453.3,901.6 463.3,904.2 473.3,909 483.3,909.9 493.3,910 503.3,910.5 513.3,910.5 523.2,904.4 533.2,874.8 543.2,879.7 553.2,874.1 563.2,873.3 573.2,870.7 583.2,884.8 593.1,886.5"/>
<polyline class="ln dot" stroke="#ff9673" points="93.9,832.6 103.8,832.8 113.8,838.8 123.8,841.5 133.8,834.3 143.8,818.3 153.8,848.6 163.8,844.4 173.7,853.4 183.7,833.4 193.7,836 203.7,836.8 213.7,830.9 223.7,808.9 233.7,802.6 243.6,803.9 253.6,797 263.6,781.3 273.6,785.5 283.6,784.8 293.6,782.4 303.6,790 313.5,791.9 323.5,796.9 333.5,793.7 343.5,793.6 353.5,792 363.5,786.3 373.5,781.9 383.4,777.2 393.4,775.8 403.4,775.7 413.4,774.8 423.4,764.6 433.4,755.7 443.4,752.6 453.3,749.3 463.3,753.6 473.3,753.7 483.3,741.5 493.3,738.2 503.3,734.8 513.3,754.4 523.2,752.8 533.2,751.2 543.2,750.4 553.2,748.7 563.2,756.2 573.2,745.5 583.2,723.4 593.1,718.4"/>
<polyline class="ln sol" stroke="#a04545" points="93.9,862.2 103.8,832.8 113.8,851.2 123.8,872.4 133.8,862.2 143.8,877.7 153.8,887.3 163.8,904.1 173.7,902.3 183.7,913.7 193.7,905 203.7,906.9 213.7,927.3 223.7,933.6 233.7,888.4 243.6,907.2 253.6,892 263.6,893.3 273.6,895.9 283.6,898.1 293.6,897.9 303.6,897.5 313.5,898.5 323.5,902.9 333.5,902.9 343.5,900.8 353.5,903.2 363.5,888 373.5,887.8 383.4,887.9 393.4,873.5 403.4,887.7 413.4,884.4 423.4,884.4 433.4,885.3 443.4,880.2 453.3,881.4 463.3,878.8 473.3,877.3 483.3,874.2 493.3,877.5 503.3,884.5 513.3,887.8 523.2,897 533.2,903.7 543.2,905.4 553.2,893.3 563.2,891.6 573.2,898.8 583.2,889.8 593.1,892.8"/>
<polyline class="ln dash" stroke="#2e8b2e" points="93.9,804.8 103.8,832.8 113.8,845.8 123.8,785.4 133.8,809.2 143.8,863.2 153.8,886.7 163.8,880.7 173.7,854 183.7,837.8 193.7,813.6 203.7,808.7 213.7,790.4 223.7,762.6 233.7,775.6 243.6,764.1 253.6,764 263.6,755.5 273.6,761.8 283.6,766.1 293.6,764.7 303.6,768.1 313.5,768.2 323.5,754.9 333.5,773.3 343.5,778.5 353.5,776.7 363.5,797.1 373.5,803.5 383.4,790.1 393.4,784.7 403.4,786.8 413.4,797.4 423.4,796.1 433.4,783 443.4,784.5 453.3,778.6 463.3,778.7 473.3,778.9 483.3,779 493.3,783.4 503.3,797.6 513.3,796.5 523.2,804.6 533.2,815 543.2,815.9 553.2,813.9 563.2,813.1 573.2,810.5 583.2,809.8 593.1,809.9"/>
<polyline class="ln sol" stroke="#ff9243" points="93.9,852.7 103.8,832.8 113.8,821.3 123.8,827.4 133.8,829.4 143.8,817.4 153.8,829.1 163.8,799.9 173.7,810.7 183.7,795.3 193.7,772.7 203.7,807.9 213.7,816 223.7,791.9 233.7,814.1 243.6,832.3 253.6,828.2 263.6,811.4 273.6,821.5 283.6,806.6 293.6,800.6 303.6,822.3 313.5,809.1 323.5,834 333.5,819 343.5,814.8 353.5,805 363.5,808.8 373.5,809.2 383.4,830.1 393.4,829.5 403.4,835 413.4,841.2 423.4,818.2 433.4,806.1 443.4,804.7 453.3,804.7 463.3,805.1 473.3,814.5 483.3,820.4 493.3,821.5 503.3,827.2 513.3,827.3 523.2,824.6 533.2,824.6 543.2,840 553.2,840 563.2,836.3 573.2,836.3 583.2,825.8 593.1,802.6"/>
</g>
<rect class="ax" x="68.9" y="633" width="549.2" height="497.8"/>
<line class="tk" x1="93.9" y1="1130.8" x2="93.9" y2="1137.2"/>
<text class="ser xt" x="94.9" y="1159.2" textLength="10.2" lengthAdjust="spacingAndGlyphs">0</text>
<line class="tk" x1="193.7" y1="1130.8" x2="193.7" y2="1137.2"/>
<text class="ser xt" x="194.7" y="1159.2" textLength="20.4" lengthAdjust="spacingAndGlyphs">10</text>
<line class="tk" x1="293.6" y1="1130.8" x2="293.6" y2="1137.2"/>
<text class="ser xt" x="294.6" y="1159.2" textLength="20.4" lengthAdjust="spacingAndGlyphs">20</text>
<line class="tk" x1="393.4" y1="1130.8" x2="393.4" y2="1137.2"/>
<text class="ser xt" x="394.4" y="1159.2" textLength="20.4" lengthAdjust="spacingAndGlyphs">30</text>
<line class="tk" x1="493.3" y1="1130.8" x2="493.3" y2="1137.2"/>
<text class="ser xt" x="494.3" y="1159.2" textLength="20.4" lengthAdjust="spacingAndGlyphs">40</text>
<line class="tk" x1="593.1" y1="1130.8" x2="593.1" y2="1137.2"/>
<text class="ser xt" x="594.1" y="1159.2" textLength="20.4" lengthAdjust="spacingAndGlyphs">50</text>
<line class="tk" x1="62.5" y1="650.4" x2="68.9" y2="650.4"/>
<text class="san yt" x="56.8" y="657.3" textLength="17.7" lengthAdjust="spacingAndGlyphs">30</text>
<line class="tk" x1="62.5" y1="734.4" x2="68.9" y2="734.4"/>
<text class="san yt" x="56.8" y="741.3" textLength="17.7" lengthAdjust="spacingAndGlyphs">28</text>
<line class="tk" x1="62.5" y1="818.4" x2="68.9" y2="818.4"/>
<text class="san yt" x="56.8" y="825.3" textLength="17.7" lengthAdjust="spacingAndGlyphs">26</text>
<line class="tk" x1="62.5" y1="902.4" x2="68.9" y2="902.4"/>
<text class="san yt" x="56.8" y="909.3" textLength="17.7" lengthAdjust="spacingAndGlyphs">24</text>
<line class="tk" x1="62.5" y1="986.4" x2="68.9" y2="986.4"/>
<text class="san yt" x="56.8" y="993.3" textLength="17.7" lengthAdjust="spacingAndGlyphs">22</text>
<line class="tk" x1="62.5" y1="1070.4" x2="68.9" y2="1070.4"/>
<text class="san yt" x="56.8" y="1077.3" textLength="17.7" lengthAdjust="spacingAndGlyphs">20</text>
<text class="ser big" text-anchor="middle" x="344.3" y="623.8">(c)</text>
<text class="ser big" text-anchor="middle" transform="translate(24.5,883.2) rotate(-90)">Root-mean-square error/(hours)</text>
</g>
<g id="panel-d">
<clipPath id="clip-d"><rect x="728" y="633" width="549.3" height="497.8"/></clipPath>
<g clip-path="url(#clip-d)">
<polyline class="ln dash" stroke="#ff3333" points="753,888.1 763,922.5 772.9,955.8 782.9,983.2 792.9,988.1 802.9,984.8 812.9,980.3 822.9,970.7 832.9,969.1 842.9,949.3 852.8,936.3 862.8,943 872.8,942.8 882.8,951.1 892.8,950.2 902.8,949.3 912.8,944.5 922.8,938 932.7,931.4 942.7,921.8 952.7,916.9 962.7,916.9 972.7,917.7 982.7,917.7 992.7,917.2 1002.6,916.1 1012.6,915.3 1022.6,912.8 1032.6,912.3 1042.6,912.3 1052.6,912.8 1062.6,920.1 1072.6,920.5 1082.5,920.5 1092.5,925 1102.5,938.8 1112.5,939.3 1122.5,939.3 1132.5,939.3 1142.5,944.8 1152.5,945.2 1162.4,945.2 1172.4,945.2 1182.4,945.2 1192.4,945.8 1202.4,953.4 1212.4,953.4 1222.4,953.4 1232.4,956.6 1242.3,956.6 1252.3,956.6"/>
<polyline class="ln dashdot" stroke="#ff43a9" points="753,1000.2 763,922.5 772.9,864.4 782.9,808.1 792.9,799.2 802.9,745.2 812.9,757.2 822.9,782.7 832.9,774.5 842.9,789.8 852.8,806.8 862.8,803.7 872.8,793.8 882.8,801.9 892.8,814.4 902.8,830.9 912.8,850.3 922.8,860.1 932.7,851.9 942.7,832.5 952.7,820.4 962.7,822.6 972.7,820 982.7,809.9 992.7,813.9 1002.6,808.4 1012.6,793.8 1022.6,798.8 1032.6,809.3 1042.6,809.3 1052.6,810.1 1062.6,813.1 1072.6,812.6 1082.5,808.6 1092.5,823.9 1102.5,818.3 1112.5,811 1122.5,812.2 1132.5,812.6 1142.5,814.2 1152.5,806.9 1162.4,793.8 1172.4,793.1 1182.4,785.8 1192.4,783.4 1202.4,787.1 1212.4,787.1 1222.4,783.4 1232.4,782.5 1242.3,782.5 1252.3,782.9"/>
<polyline class="ln dot" stroke="#f19bf1" points="753,949.3 763,922.5 772.9,940.3 782.9,949.3 792.9,951.1 802.9,944.5 812.9,947 822.9,953.7 832.9,962.3 842.9,968.9 852.8,971.3 862.8,969.6 872.8,967.1 882.8,968 892.8,967.1 902.8,965.6 912.8,954.2 922.8,953.4 932.7,952.6 942.7,953.4 952.7,952.6 962.7,946.1 972.7,943.6 982.7,943.6 992.7,941.2 1002.6,947.5 1012.6,951.8 1022.6,955.8 1032.6,955.8 1042.6,957.4 1052.6,966.4 1062.6,966.4 1072.6,964.8 1082.5,962.3 1092.5,965.6 1102.5,966.4 1112.5,968 1122.5,968.9 1132.5,968.9 1142.5,968 1152.5,955.8 1162.4,955.8 1172.4,967.1 1182.4,969.6 1192.4,981.9 1202.4,989.1 1212.4,989.1 1222.4,989.1 1232.4,989.1 1242.3,977.8 1252.3,977"/>
<polyline class="ln sol" stroke="#ffb26e" points="753,918.9 763,922.5 772.9,904.2 782.9,899.2 792.9,906.8 802.9,947 812.9,993.5 822.9,1029.2 832.9,1032.6 842.9,1081.2 852.8,1061.8 862.8,1058.5 872.8,1052.9 882.8,1037.4 892.8,1040.6 902.8,1060.1 912.8,1052 922.8,1052.9 932.7,1060.1 942.7,1083.7 952.7,1094.2 962.7,1102.9 972.7,1100.7 982.7,1089.4 992.7,1083.2 1002.6,1082.7 1012.6,1078.8 1022.6,1082.6 1032.6,1085.6 1042.6,1083.2 1052.6,1091.7 1062.6,1108 1072.6,1095.8 1082.5,1079.9 1092.5,1083.2 1102.5,1082.8 1112.5,1094 1122.5,1094.5 1132.5,1087.4 1142.5,1088.6 1152.5,1088.6 1162.4,1086.1 1172.4,1087.7 1182.4,1087.7 1192.4,1091.7 1202.4,1095.8 1212.4,1104.8 1222.4,1105.3 1232.4,1093.1 1242.3,1092.3 1252.3,1092.3"/>
<polyline class="ln dash" stroke="#33ff33" points="753,900.1 763,922.5 772.9,924.7 782.9,933.4 792.9,937.4 802.9,936.1 812.9,946.1 822.9,947.7 832.9,946.1 842.9,949.3 852.8,964 862.8,957.4 872.8,954.2 882.8,965.8 892.8,975.6 902.8,969.1 912.8,949 922.8,985.2 932.7,988.9 942.7,960.4 952.7,975.6 962.7,968.7 972.7,980.3 982.7,981.2 992.7,979.2 1002.6,984.8 1012.6,986.6 1022.6,994.1 1032.6,985 1042.6,989.1 1052.6,989.1 1062.6,989.1 1072.6,989.1 1082.5,989.1 1092.5,984.2 1102.5,975.3 1112.5,977 1122.5,977 1132.5,972.9 1142.5,988.3 1152.5,981 1162.4,975.3 1172.4,975 1182.4,974.5 1192.4,972 1202.4,969.6 1212.4,955.8 1222.4,953.4 1232.4,957.4 1242.3,958.2 1252.3,957.4"/>
<polyline class="ln dashdot" stroke="#33a033" points="753,944.8 763,922.5 772.9,931.4 782.9,905.3 792.9,877.4 802.9,862.6 812.9,905.3 822.9,923.1 832.9,936.3 842.9,946.1 852.8,954.2 862.8,941.2 872.8,946.1 882.8,925.8 892.8,931.4 902.8,929.9 912.8,933.1 922.8,939.6 932.7,934.7 942.7,931.4 952.7,928.3 962.7,918.4 972.7,918.4 982.7,923.4 992.7,919.3 1002.6,920.1 1012.6,936.3 1022.6,964 1032.6,983.4 1042.6,980.1 1052.6,975.3 1062.6,976.1 1072.6,965.6 1082.5,959.9 1092.5,952.6 1102.5,945.2 1112.5,941.2 1122.5,938.8 1132.5,933.1 1142.5,937.2 1152.5,946.9 1162.4,949.3 1172.4,949.3 1182.4,951.8 1192.4,947.7 1202.4,938 1212.4,928.3 1222.4,918.4 1232.4,923.4 1242.3,928.3 1252.3,930.7"/>
<polyline class="ln dot" stroke="#33ffff" points="753,925.1 763,922.5 772.9,934.1 782.9,945.7 792.9,967.1 802.9,996.2 812.9,1014.7 822.9,1031 832.9,1040.6 842.9,1022.8 852.8,1021.2 862.8,1043.9 872.8,1054.4 882.8,1045.5 892.8,1064.9 902.8,1059.3 912.8,1047.2 922.8,1037.4 932.7,1047.2 942.7,1046.4 952.7,1024.4 962.7,1024.4 972.7,1039 982.7,1048 992.7,1035.8 1002.6,1048.8 1012.6,1053.3 1022.6,1037.4 1032.6,1039.9 1042.6,1038.2 1052.6,1034.1 1062.6,1033.4 1072.6,1017.1 1082.5,1037.4 1092.5,1037.1 1102.5,1038.2 1112.5,1038.2 1122.5,1031.3 1132.5,1031.7 1142.5,1032.2 1152.5,1031 1162.4,1026.8 1172.4,1028 1182.4,1029 1192.4,1030.1 1202.4,1027.7 1212.4,1027.7 1222.4,1025.2 1232.4,1024.4 1242.3,1024.1 1252.3,1022.5"/>
<polyline class="ln sol" stroke="#9fd8fb" points="753,853.9 763,922.5 772.9,917.6 782.9,899.2 792.9,908.2 802.9,894.8 812.9,899.2 822.9,898.8 832.9,885.8 842.9,892.8 852.8,889.2 862.8,901.7 872.8,905.1 882.8,910.2 892.8,912 902.8,903.9 912.8,899.8 922.8,894.2 932.7,910.4 942.7,908 952.7,882.8 962.7,882 972.7,884.5 982.7,871.4 992.7,873.1 1002.6,875.6 1012.6,875.6 1022.6,866.6 1032.6,856.8 1042.6,851.1 1052.6,862.5 1062.6,863.3 1072.6,866.6 1082.5,860.1 1092.5,846.3 1102.5,842.5 1112.5,842.5 1122.5,846.3 1132.5,840.9 1142.5,840.6 1152.5,822.7 1162.4,815.3 1172.4,820.2 1182.4,826.8 1192.4,839.8 1202.4,852.8 1212.4,862.5 1222.4,871.1 1232.4,871.1 1242.3,880.7 1252.3,865.7"/>
<polyline class="ln dash" stroke="#3333ff" points="753,939.4 763,922.5 772.9,993 782.9,951.5 792.9,895.7 802.9,901 812.9,912.2 822.9,898.4 832.9,873.8 842.9,842.1 852.8,814.4 862.8,803 872.8,804.8 882.8,793.8 892.8,784.2 902.8,763 912.8,759 922.8,763.9 932.7,748.5 942.7,732.2 952.7,724.2 962.7,717.7 972.7,709.5 982.7,713.6 992.7,706.3 1002.6,690.1 1012.6,690.1 1022.6,677.1 1032.6,661.7 1042.6,655.1 1052.6,656 1062.6,665.7 1072.6,664.1 1082.5,668.1 1092.5,673.8 1102.5,675.5 1112.5,686 1122.5,692.5 1132.5,688.4 1142.5,694.1 1152.5,714.4 1162.4,713.6 1172.4,714.4 1182.4,699.8 1192.4,703.9 1202.4,692.5 1212.4,692.5 1222.4,694.1 1232.4,694.1 1242.3,691.4 1252.3,691.4"/>
<polyline class="ln dashdot" stroke="#8b7ce0" points="753,960.7 763,922.5 772.9,943.5 782.9,906.8 792.9,871.1 802.9,896.1 812.9,901.7 822.9,893.2 832.9,892.8 842.9,892.4 852.8,888.7 862.8,879.1 872.8,859.9 882.8,882.7 892.8,874.7 902.8,867.4 912.8,850.3 922.8,843.9 932.7,834 942.7,832.5 952.7,822 962.7,834.9 972.7,825.1 982.7,825.1 992.7,823.3 1002.6,816.4 1012.6,797.4 1022.6,772.9 1032.6,758.2 1042.6,745.2 1052.6,756.6 1062.6,774.5 1072.6,776.1 1082.5,780.9 1092.5,771.2 1102.5,762.3 1112.5,762.3 1122.5,753.3 1132.5,745.2 1142.5,745.2 1152.5,742 1162.4,730.6 1172.4,723.3 1182.4,728.2 1192.4,728.2 1202.4,728.2 1212.4,740.3 1222.4,744.4 1232.4,742 1242.3,734.7 1252.3,734.2"/>
<polyline class="ln dot" stroke="#333399" points="753,998.4 763,922.5 772.9,895.4 782.9,912.6 792.9,931.8 802.9,872 812.9,851 822.9,880.3 832.9,826.4 842.9,805.1 852.8,829.4 862.8,812.4 872.8,798.8 882.8,782.7 892.8,732.2 902.8,735.5 912.8,749.3 922.8,751 932.7,751.7 942.7,749.3 952.7,742.8 962.7,755 972.7,755 982.7,752.5 992.7,751 1002.6,772 1012.6,793 1022.6,795.6 1032.6,798.8 1042.6,792.3 1052.6,789.1 1062.6,787.4 1072.6,777.8 1082.5,779.3 1092.5,785 1102.5,789.1 1112.5,792.3 1122.5,793.8 1132.5,795.2 1142.5,790.7 1152.5,788.3 1162.4,786.3 1172.4,789.8 1182.4,769.3 1192.4,769.3 1202.4,769.6 1212.4,773.8 1222.4,780.9 1232.4,780.1 1242.3,780.1 1252.3,776.1"/>
<polyline class="ln sol" stroke="#c0e6fc" points="753,910 763,922.5 772.9,922.5 782.9,918 792.9,909.1 802.9,931.4 812.9,913.5 822.9,912.3 832.9,896.6 842.9,892.4 852.8,889.4 862.8,901 872.8,903.7 882.8,884.3 892.8,895 902.8,929.9 912.8,957.4 922.8,955.1 932.7,952.6 942.7,954.2 952.7,952.6 962.7,951.8 972.7,946.9 982.7,942.6 992.7,940.4 1002.6,954.2 1012.6,956.1 1022.6,949.3 1032.6,941.2 1042.6,923.4 1052.6,930.7 1062.6,925.8 1072.6,928.3 1082.5,920.1 1092.5,917.2 1102.5,916.9 1112.5,914.4 1122.5,906.4 1132.5,900.6 1142.5,908.8 1152.5,901.5 1162.4,901.5 1172.4,899 1182.4,899 1192.4,903.1 1202.4,907.5 1212.4,907.1 1222.4,907.1 1232.4,907.1 1242.3,912.3 1252.3,913.1"/>
<polyline class="ln dash" stroke="#ffff33" points="753,922.5 763,922.5 772.9,951.1 782.9,967.1 792.9,962.3 802.9,970.4 812.9,956 822.9,949.3 832.9,968.9 842.9,949.3 852.8,952.6 862.8,946.1 872.8,955.8 882.8,995 892.8,992.1 902.8,990.1 912.8,985.7 922.8,986.6 932.7,1010 942.7,1004.2 952.7,988.1 962.7,1011.3 972.7,999.3 982.7,996.8 992.7,993.6 1002.6,992.6 1012.6,997.9 1022.6,986.8 1032.6,976.1 1042.6,974.5 1052.6,964 1062.6,955.8 1072.6,943.6 1082.5,942.8 1092.5,938 1102.5,939.3 1112.5,942.8 1122.5,929.9 1132.5,926.6 1142.5,928.3 1152.5,925.8 1162.4,925.8 1172.4,934.7 1182.4,949.3 1192.4,950.2 1202.4,955.8 1212.4,955.1 1222.4,946.1 1232.4,945.2 1242.3,942.8 1252.3,942.8"/>
<polyline class="ln dashdot" stroke="#f0bc4a" points="753,935.9 763,922.5 772.9,939.6 782.9,949.3 792.9,982.1 802.9,975.2 812.9,973.8 822.9,929.2 832.9,943.9 842.9,928.1 852.8,933.6 862.8,944.5 872.8,952.6 882.8,944.5 892.8,938 902.8,915.3 912.8,920.9 922.8,916.1 932.7,916.1 942.7,920.9 952.7,914.4 962.7,917.7 972.7,920.1 982.7,928.3 992.7,920.1 1002.6,950.2 1012.6,947.7 1022.6,955.1 1032.6,949.3 1042.6,945.2 1052.6,944.1 1062.6,944.1 1072.6,944.1 1082.5,951.1 1092.5,944.1 1102.5,948.5 1112.5,954.2 1122.5,959.9 1132.5,965.6 1142.5,966.4 1152.5,964.8 1162.4,968 1172.4,968.9 1182.4,959.9 1192.4,940.3 1202.4,946.9 1212.4,942.8 1222.4,942.6 1232.4,938 1242.3,946.9 1252.3,944.5"/>
<polyline class="ln dot" stroke="#ff9673" points="753,927.8 763,922.5 772.9,924.7 782.9,923 792.9,910 802.9,903.7 812.9,932.7 822.9,926.5 832.9,926.7 842.9,922.5 852.8,924 862.8,915.5 872.8,907.4 882.8,885.4 892.8,879.6 902.8,874.7 912.8,866.6 922.8,850.3 932.7,853.6 942.7,856 952.7,859.3 962.7,864.1 972.7,866.6 982.7,876.3 992.7,877.8 1002.6,877.8 1012.6,875.6 1022.6,869.8 1032.6,860.8 1042.6,855.2 1052.6,852.8 1062.6,852.4 1072.6,849.7 1082.5,839 1092.5,832.5 1102.5,829.2 1112.5,826 1122.5,825.3 1132.5,823.8 1142.5,809.2 1152.5,805 1162.4,793.8 1172.4,809.2 1182.4,807.1 1192.4,805.3 1202.4,803.7 1212.4,798.8 1222.4,804.6 1232.4,792.3 1242.3,771.2 1252.3,763.9"/>
<polyline class="ln sol" stroke="#a04545" points="753,953.4 763,922.5 772.9,928.1 782.9,938.5 792.9,925.1 802.9,937.8 812.9,942.3 822.9,958.2 832.9,955.8 842.9,965.6 852.8,955.8 862.8,955.1 872.8,962.3 882.8,964.8 892.8,935.6 902.8,940.3 912.8,930.7 922.8,931.4 932.7,936.3 942.7,942.1 952.7,939.9 962.7,939.6 972.7,941.2 982.7,943.3 992.7,943.6 1002.6,939.4 1012.6,942.6 1022.6,925.8 1032.6,927.4 1042.6,929 1052.6,915.3 1062.6,922.6 1072.6,918.2 1082.5,918.2 1092.5,923 1102.5,919.3 1112.5,921.8 1122.5,933.1 1132.5,929.9 1142.5,929.6 1152.5,931.2 1162.4,942.8 1172.4,944.5 1182.4,956.6 1192.4,965.6 1202.4,967.1 1212.4,953.9 1222.4,951.8 1232.4,958.7 1242.3,955.1 1252.3,956.6"/>
<polyline class="ln dash" stroke="#2e8b2e" points="753,898.8 763,922.5 772.9,943.5 782.9,903.7 792.9,911.3 802.9,953.7 812.9,977.2 822.9,968.9 832.9,955.8 842.9,926.9 852.8,895.7 862.8,874.2 872.8,855 882.8,835.8 892.8,842.1 902.8,832.5 912.8,832.5 922.8,822.9 932.7,832.5 942.7,834.9 952.7,832.5 962.7,830.9 972.7,826 982.7,812.8 992.7,829.2 1002.6,834.9 1012.6,830.9 1022.6,844.8 1032.6,851.1 1042.6,839 1052.6,833.3 1062.6,834.9 1072.6,850.3 1082.5,847.1 1092.5,834 1102.5,834.9 1112.5,829.2 1122.5,829.2 1132.5,830 1142.5,832.5 1152.5,835.8 1162.4,847.9 1172.4,846.3 1182.4,850.3 1192.4,856.8 1202.4,857.7 1212.4,856 1222.4,855.5 1232.4,853.9 1242.3,853.2 1252.3,853.2"/>
<polyline class="ln sol" stroke="#ff9243" points="753,935.2 763,922.5 772.9,896.8 782.9,887.2 792.9,888.3 802.9,887.2 812.9,875.6 822.9,853.7 832.9,859.5 842.9,839 852.8,826 862.8,852.8 872.8,853.6 882.8,834 892.8,850.3 902.8,879.6 912.8,874.7 922.8,858.4 932.7,866.6 942.7,855.2 952.7,848.8 962.7,858.4 972.7,843.9 982.7,869.8 992.7,867.4 1002.6,864.9 1012.6,854.4 1022.6,860.4 1032.6,865.7 1042.6,886.4 1052.6,880.4 1062.6,890.9 1072.6,899.3 1082.5,901.5 1092.5,888.5 1102.5,886.8 1112.5,886.5 1122.5,884.5 1132.5,894.2 1142.5,901.8 1152.5,903.9 1162.4,910.4 1172.4,910.4 1182.4,904.4 1192.4,905.2 1202.4,920.5 1212.4,920.5 1222.4,916.7 1232.4,916.7 1242.3,902.4 1252.3,880.7"/>
</g>
<rect class="ax" x="728" y="633" width="549.3" height="497.8"/>
<line class="tk" x1="753" y1="1130.8" x2="753" y2="1137.2"/>
<text class="ser xt" x="754" y="1159.2" textLength="10.2" lengthAdjust="spacingAndGlyphs">0</text>
<line class="tk" x1="852.8" y1="1130.8" x2="852.8" y2="1137.2"/>
<text class="ser xt" x="853.8" y="1159.2" textLength="20.4" lengthAdjust="spacingAndGlyphs">10</text>
<line class="tk" x1="952.7" y1="1130.8" x2="952.7" y2="1137.2"/>
<text class="ser xt" x="953.7" y="1159.2" textLength="20.4" lengthAdjust="spacingAndGlyphs">20</text>
<line class="tk" x1="1052.6" y1="1130.8" x2="1052.6" y2="1137.2"/>
<text class="ser xt" x="1053.6" y="1159.2" textLength="20.4" lengthAdjust="spacingAndGlyphs">30</text>
<line class="tk" x1="1152.5" y1="1130.8" x2="1152.5" y2="1137.2"/>
<text class="ser xt" x="1153.5" y="1159.2" textLength="20.4" lengthAdjust="spacingAndGlyphs">40</text>
<line class="tk" x1="1252.3" y1="1130.8" x2="1252.3" y2="1137.2"/>
<text class="ser xt" x="1253.3" y="1159.2" textLength="20.4" lengthAdjust="spacingAndGlyphs">50</text>
<line class="tk" x1="721.6" y1="708.1" x2="728" y2="708.1"/>
<text class="san yt" x="715.9" y="715" textLength="17.7" lengthAdjust="spacingAndGlyphs">24</text>
<line class="tk" x1="721.6" y1="797.4" x2="728" y2="797.4"/>
<text class="san yt" x="715.9" y="804.3" textLength="17.7" lengthAdjust="spacingAndGlyphs">22</text>
<line class="tk" x1="721.6" y1="886.7" x2="728" y2="886.7"/>
<text class="san yt" x="715.9" y="893.6" textLength="17.7" lengthAdjust="spacingAndGlyphs">20</text>
<line class="tk" x1="721.6" y1="976.1" x2="728" y2="976.1"/>
<text class="san yt" x="715.9" y="983" textLength="17.7" lengthAdjust="spacingAndGlyphs">18</text>
<line class="tk" x1="721.6" y1="1065.4" x2="728" y2="1065.4"/>
<text class="san yt" x="715.9" y="1072.3" textLength="17.7" lengthAdjust="spacingAndGlyphs">16</text>
<text class="ser big" text-anchor="middle" x="1003.4" y="623.8">(d)</text>
<text class="ser big" text-anchor="middle" transform="translate(682.6,883.5) rotate(-90)">Mean Absolute error/(hours)</text>
</g>
<text class="ser big" text-anchor="middle" x="674.0" y="1200.8">The weights of feature</text>
<g id="legend">
<rect x="1390.9" y="295.1" width="332.2" height="594.7" rx="3.5" ry="3.5" fill="#fff" stroke="#cccccc" stroke-width="1.5"/>
<line class="ln dash" stroke="#ff3333" x1="1400" y1="312.7" x2="1446.8" y2="312.7"/>
<text class="ser lg" x="1464.0" y="321.9">CPA</text>
<line class="ln dashdot" stroke="#ff43a9" x1="1400" y1="345.3" x2="1446.8" y2="345.3"/>
<text class="ser lg" x="1464.0" y="354.5">MPA</text>
<line class="ln dot" stroke="#f19bf1" x1="1400" y1="378" x2="1446.8" y2="378"/>
<text class="ser lg" x="1464.0" y="387.2">Angle Width</text>
<line class="ln sol" stroke="#ffb26e" x1="1400" y1="410.6" x2="1446.8" y2="410.6"/>
<text class="ser lg" x="1464.0" y="419.8">CME Linear speed</text>
<line class="ln dash" stroke="#33ff33" x1="1400" y1="443.3" x2="1446.8" y2="443.3"/>
<text class="ser lg" x="1464.0" y="452.5">CME Final speed</text>
<line class="ln dashdot" stroke="#33a033" x1="1400" y1="475.9" x2="1446.8" y2="475.9"/>
<text class="ser lg" x="1464.0" y="485.1">CME speed in 20Rs</text>
<line class="ln dot" stroke="#33ffff" x1="1400" y1="508.6" x2="1446.8" y2="508.6"/>
<text class="ser lg" x="1464.0" y="517.8">CME Initial speed</text>
<line class="ln sol" stroke="#9fd8fb" x1="1400" y1="541.2" x2="1446.8" y2="541.2"/>
<text class="ser lg" x="1464.0" y="550.4">F10.7</text>
<line class="ln dash" stroke="#3333ff" x1="1400" y1="573.9" x2="1446.8" y2="573.9"/>
<text class="ser lg" x="1464.0" y="583.1">Solar Wind_Bx</text>
<line class="ln dashdot" stroke="#8b7ce0" x1="1400" y1="606.5" x2="1446.8" y2="606.5"/>
<text class="ser lg" x="1464.0" y="615.7">Solar Wind_By</text>
<line class="ln dot" stroke="#333399" x1="1400" y1="639.2" x2="1446.8" y2="639.2"/>
<text class="ser lg" x="1464.0" y="648.4">Solar Wind_Bz</text>
<line class="ln sol" stroke="#c0e6fc" x1="1400" y1="671.8" x2="1446.8" y2="671.8"/>
<text class="ser lg" x="1464.0" y="681">Solar Wind speed</text>
<line class="ln dash" stroke="#ffff33" x1="1400" y1="704.5" x2="1446.8" y2="704.5"/>
<text class="ser lg" x="1464.0" y="713.7">Solar Wind Temperature</text>
<line class="ln dashdot" stroke="#f0bc4a" x1="1400" y1="737.1" x2="1446.8" y2="737.1"/>
<text class="ser lg" x="1464.0" y="746.3">Solar Wind Proton Density</text>
<line class="ln dot" stroke="#ff9673" x1="1400" y1="769.8" x2="1446.8" y2="769.8"/>
<text class="ser lg" x="1464.0" y="779">Solar Wind Flow Pressure</text>
<line class="ln sol" stroke="#a04545" x1="1400" y1="802.4" x2="1446.8" y2="802.4"/>
<text class="ser lg" x="1464.0" y="811.6">Solar Wind Plasma Beta</text>
<line class="ln dash" stroke="#2e8b2e" x1="1400" y1="835.1" x2="1446.8" y2="835.1"/>
<text class="ser lg" x="1464.0" y="844.3">AR latitude</text>
<line class="ln sol" stroke="#ff9243" x1="1400" y1="867.7" x2="1446.8" y2="867.7"/>
<text class="ser lg" x="1464.0" y="876.9">AR longitude</text>
</g>
</svg>
</body></html>
